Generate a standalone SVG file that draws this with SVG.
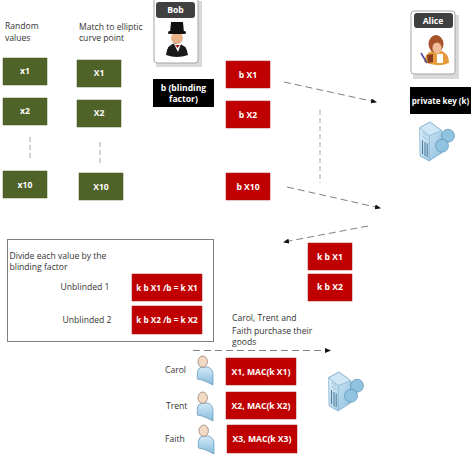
<svg xmlns="http://www.w3.org/2000/svg" width="474" height="454" viewBox="0 0 474 454">
<style>
text{font-family:"Open Sans","Liberation Sans",sans-serif;font-size:8.6px}
.l{fill:#333}
.w{fill:#fff;font-weight:700;text-anchor:middle}
.g{fill:#4f6228;stroke:#47591f;stroke-width:.5}
.r{fill:#c00000;stroke:#a31a1a;stroke-width:.5}
.b{fill:#000}
.d{stroke:#7f7f7f;stroke-width:1;stroke-dasharray:7 4;fill:none;marker-end:url(#a)}
.v{stroke:#b5b5b5;stroke-width:1.2;stroke-dasharray:5 3;fill:none}
.c{fill:#fff;stroke:#a6a6a6;stroke-width:1}
.h{fill:#404040}
</style>
<defs>
<marker id="a" markerWidth="6" markerHeight="5" refX="5" refY="2.5" orient="auto" markerUnits="userSpaceOnUse"><path d="M0 0L6 2.5L0 5z" fill="#111"/></marker>
<linearGradient id="pg" x1="0" x2="0" y1="0" y2="1"><stop offset="0" stop-color="#d3e9f7"/><stop offset="1" stop-color="#86bcdc"/></linearGradient>
<linearGradient id="sg" x1="0" x2="1" y1="0" y2="1"><stop offset="0" stop-color="#e6f3fb"/><stop offset="1" stop-color="#8dbfde"/></linearGradient>
<g id="person">
<path d="M1.300 24V17Q2 12.500 6 12L12 12Q17 14 17 20V30L11 27L6 25Z" fill="url(#pg)" stroke="#5e94b8" stroke-width=".7"/>
<ellipse cx="6.700" cy="6.700" rx="4.700" ry="5.700" fill="#f2d9c4" stroke="#8a7264" stroke-width=".7"/>
</g>
<g id="server">
<path d="M.5 5.700L11 0L22.700 8.700V31L10 39L1 34Z" fill="url(#sg)" stroke="#6fa3c6" stroke-width=".6"/>
<path d="M.5 5.700L10.300 13.700L22.700 8.700L11 0Z" fill="#cfe6f4" stroke="#6fa3c6" stroke-width=".6"/>
<path d="M10.300 13.700V39" stroke="#6fa3c6" stroke-width=".6" fill="none"/>
<path d="M3.500 18V32M6 20V34M8.200 21.500V35" stroke="#3f6f90" stroke-width=".9" fill="none"/>
<path d="M3 10L8 14M3 13.500L8 17.500" stroke="#8ab5d0" stroke-width=".8" fill="none"/>
<circle cx="29" cy="13.700" r="6.500" fill="#8fc3e0" stroke="#4f87ae" stroke-width=".6"/>
<circle cx="23" cy="23.700" r="6.500" fill="#8fc3e0" stroke="#4f87ae" stroke-width=".6"/>
</g>
</defs>
<rect width="474" height="454" fill="#fff"/>

<g id="connectors">
<path class="v" d="M30 137V158"/>
<path class="v" d="M100 142V163"/>
<path class="v" d="M320 110V183"/>
<path class="d" d="M284 82L376 102"/>
<path class="d" d="M287 187L380 208"/>
<path class="d" d="M368 226L284 242"/>
<path class="d" d="M193 350.500H330"/>
</g>

<g id="label-random"><text class="l" x="5" y="29">Random</text><text class="l" x="5" y="41">values</text></g>
<g id="label-match"><text class="l" x="79" y="30">Match to elliptic</text><text class="l" x="79" y="41">curve point</text></g>

<g id="x1"><rect class="g" x="3" y="58" width="44" height="27"/><text class="w" x="25" y="74">x1</text></g>
<g id="x2"><rect class="g" x="3" y="98" width="44" height="27"/><text class="w" x="25" y="114">x2</text></g>
<g id="x10"><rect class="g" x="3" y="171" width="44" height="27"/><text class="w" x="25" y="188">x10</text></g>
<g id="X1"><rect class="g" x="77" y="60" width="44" height="27"/><text class="w" x="99" y="76">X1</text></g>
<g id="X2"><rect class="g" x="77" y="100" width="44" height="27"/><text class="w" x="99" y="116">X2</text></g>
<g id="X10"><rect class="g" x="79" y="173" width="44" height="27"/><text class="w" x="101" y="190">X10</text></g>

<g id="bob">
<rect x="156" y="1" width="46" height="66" fill="#d9d9d9"/>
<rect class="c" x="154" y="-3" width="44" height="66" rx="3"/>
<rect class="h" x="156" y="2" width="39" height="16" rx="3"/>
<text class="w" x="175.500" y="13">Bob</text>
<path d="M166 55Q167 44 176 43Q187 44 188 55Q177 59 166 55Z" fill="#1a1a1a"/>
<path d="M174 44H181L178 52Z" fill="#fff"/>
<path d="M175 45L180 45L177.500 48Z" fill="#a02020"/>
<ellipse cx="177" cy="38" rx="6" ry="6" fill="#e8b48c"/>
<path d="M171 22H183L184 33H170Z" fill="#111"/>
<rect x="168" y="31" width="18" height="3" rx="1.500" fill="#111"/>
</g>
<g id="blinding"><rect class="b" x="153" y="79" width="61" height="28"/><text class="w" x="183.500" y="91">b (blinding</text><text class="w" x="183.500" y="102">factor)</text></g>

<g id="bX1"><rect class="r" x="226" y="61" width="44" height="27"/><text class="w" x="248" y="78">b X1</text></g>
<g id="bX2"><rect class="r" x="226" y="101" width="44" height="27"/><text class="w" x="248" y="118">b X2</text></g>
<g id="bX10"><rect class="r" x="226" y="173" width="44" height="27"/><text class="w" x="248" y="190">b X10</text></g>

<g id="alice">
<rect x="413" y="15" width="46" height="64" fill="#d9d9d9"/>
<rect class="c" x="411" y="11" width="44" height="63" rx="3"/>
<rect class="h" x="414" y="13" width="39" height="15" rx="3"/>
<text class="w" x="433" y="23.500">Alice</text>
<path d="M424 62Q425 53 432 51L442 51Q449 54 449 63Q437 68 424 62Z" fill="#e59a3c"/>
<ellipse cx="436" cy="44" rx="7.500" ry="9" fill="#a8522a"/>
<ellipse cx="437" cy="48" rx="4.500" ry="5.500" fill="#f0bd98"/>
<path d="M437 54H443V63H437Z" fill="#fff"/>
<path d="M427 55L433 54L433 62L428 63Z" fill="#8a3a1e"/>
<path d="M421 53L427 63" stroke="#4a4a9a" stroke-width="1.500"/>
</g>
<g id="private-key"><rect class="b" x="410" y="87" width="61" height="27"/><text class="w" x="440.500" y="104" style="font-size:8px">private key (k)</text></g>
<use id="server-alice" href="#server" x="419" y="122"/>

<g id="kbX1"><rect class="r" x="308" y="243" width="44" height="27"/><text class="w" x="330" y="260">k b X1</text></g>
<g id="kbX2"><rect class="r" x="308" y="274" width="44" height="27"/><text class="w" x="330" y="290">k b X2</text></g>

<g id="divide">
<rect x="7.500" y="239.500" width="206" height="102" fill="#fff" stroke="#7f7f7f" stroke-width="1"/>
<text class="l" x="9.500" y="259">Divide each value by the</text>
<text class="l" x="9.500" y="270">blinding factor</text>
<text class="l" x="60.500" y="290">Unblinded 1</text>
<text class="l" x="62.500" y="323">Unblinded 2</text>
</g>
<g id="unblinded1"><rect class="r" x="132" y="274" width="70" height="27"/><text class="w" x="167" y="290.500" style="font-size:8.200px">k b X1 /b = k X1</text></g>
<g id="unblinded2"><rect class="r" x="132" y="306" width="70" height="28"/><text class="w" x="167" y="323" style="font-size:8.200px">k b X2 /b = k X2</text></g>

<g id="purchase"><text class="l" x="232" y="321">Carol, Trent and</text><text class="l" x="232" y="334">Faith purchase their</text><text class="l" x="232" y="345">goods</text></g>

<g id="carol"><text class="l" x="165" y="373">Carol</text><use href="#person" x="196" y="355"/></g>
<g id="trent"><text class="l" x="166" y="409">Trent</text><use href="#person" x="196" y="391"/></g>
<g id="faith"><text class="l" x="165" y="442">Faith</text><use href="#person" x="197" y="424"/></g>

<g id="mac1"><rect class="r" x="226" y="358" width="70" height="27"/><text class="w" x="261" y="375">X1, MAC(k X1)</text></g>
<g id="mac2"><rect class="r" x="226" y="392" width="70" height="27"/><text class="w" x="261" y="409">X2, MAC(k X2)</text></g>
<g id="mac3"><rect class="r" x="227" y="425" width="70" height="28"/><text class="w" x="262" y="442">X3, MAC(k X3)</text></g>

<use id="server-merchant" href="#server" x="328" y="372"/>
</svg>
